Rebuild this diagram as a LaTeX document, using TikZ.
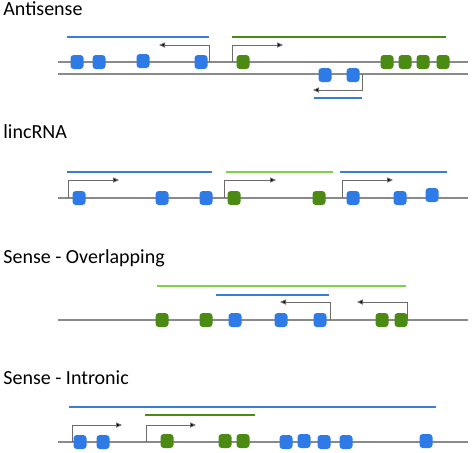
\documentclass[tikz,border=0pt]{standalone}
\usepackage{fontspec}
\setmainfont{Carlito}
\usetikzlibrary{arrows.meta,positioning}
\definecolor{geneblue}{HTML}{2E7BE8}
\definecolor{lineblue}{HTML}{3A7CD6}
\definecolor{genegreen}{HTML}{4B8B14}
\definecolor{lightgreen}{HTML}{7DD344}
\definecolor{strandgray}{HTML}{8A8A8A}
\definecolor{tssgray}{HTML}{6E6A6C}

\begin{document}
\begin{tikzpicture}[
  x=0.5pt, y=-0.5pt,
  title/.style={anchor=base west, inner sep=0pt, font=\fontsize{10}{12}\selectfont},
  exon/.style={rectangle, rounded corners=1.6pt, minimum width=6.5pt, minimum height=7pt, inner sep=0pt},
  bexon/.style={exon, fill=geneblue},
  gexon/.style={exon, fill=genegreen},
  strand/.style={draw=strandgray, line width=0.6pt},
  transcript/.style={line width=1.3pt},
  tss/.style={draw=tssgray, line width=0.45pt, -{Triangle[length=3pt, width=2.6pt, fill=black]}}
]
  \useasboundingbox (0,0) rectangle (474,452);

  % Antisense
  \node[title] (tA) at (3,15) {Antisense};
  \coordinate (aTL) at (58,62);  \coordinate (aTR) at (468,62);
  \coordinate (aBL) at (58,74);  \coordinate (aBR) at (468,74);
  \draw[strand] (aTL) -- (aTR);
  \draw[strand] (aBL) -- (aBR);
  \coordinate (aS1) at (209,62); \coordinate (aE1) at (159,45);
  \coordinate (aS2) at (232,62); \coordinate (aE2) at (283,45);
  \coordinate (aS3) at (362,74); \coordinate (aE3) at (313,90);
  \draw[tss] (aS1) |- (aE1);
  \draw[tss] (aS2) |- (aE2);
  \draw[tss] (aS3) |- (aE3);
  \node[bexon] (a1) at (77,62) {};
  \node[bexon] (a2) at (99,62) {};
  \node[bexon] (a3) at (143,61) {};
  \node[bexon] (a4) at (201,62) {};
  \node[gexon] (a5) at (243,62) {};
  \node[gexon] (a6) at (387,62) {};
  \node[gexon] (a7) at (405,62) {};
  \node[gexon] (a8) at (423,62) {};
  \node[gexon] (a9) at (443,62) {};
  \node[bexon] (a10) at (325,75) {};
  \node[bexon] (a11) at (353,75) {};
  \coordinate (aL1) at (67,37);  \coordinate (aR1) at (209,37);
  \coordinate (aL2) at (232,37); \coordinate (aR2) at (446,37);
  \coordinate (aL3) at (314,98); \coordinate (aR3) at (362,98);
  \draw[transcript, lineblue] (aL1) -- (aR1);
  \draw[transcript, genegreen] (aL2) -- (aR2);
  \draw[transcript, lineblue] (aL3) -- (aR3);

  % lincRNA
  \node[title] (tL) at (3,138) {lincRNA};
  \coordinate (lL) at (58,198); \coordinate (lR) at (468,198);
  \draw[strand] (lL) -- (lR);
  \coordinate (lS1) at (68,198);  \coordinate (lE1) at (119,180);
  \coordinate (lS2) at (224,198); \coordinate (lE2) at (276,180);
  \coordinate (lS3) at (342,198); \coordinate (lE3) at (393,180);
  \draw[tss] (lS1) |- (lE1);
  \draw[tss] (lS2) |- (lE2);
  \draw[tss] (lS3) |- (lE3);
  \node[bexon] (l1) at (79,198) {};
  \node[bexon] (l2) at (162,198) {};
  \node[bexon] (l3) at (206,198) {};
  \node[gexon] (l4) at (234,198) {};
  \node[gexon] (l5) at (319,198) {};
  \node[bexon] (l6) at (353,198) {};
  \node[bexon] (l7) at (400,198) {};
  \node[bexon] (l8) at (432,195) {};
  \coordinate (lL1) at (67,172);  \coordinate (lR1) at (212,172);
  \coordinate (lL2) at (226,172); \coordinate (lR2) at (333,172);
  \coordinate (lL3) at (340,172); \coordinate (lR3) at (447,172);
  \draw[transcript, lineblue] (lL1) -- (lR1);
  \draw[transcript, lightgreen] (lL2) -- (lR2);
  \draw[transcript, lineblue] (lL3) -- (lR3);

  % Sense - Overlapping
  \node[title] (tO) at (3,263) {Sense - Overlapping};
  \coordinate (oL) at (58,320); \coordinate (oR) at (468,320);
  \draw[strand] (oL) -- (oR);
  \coordinate (oS1) at (330,320); \coordinate (oE1) at (280,302);
  \coordinate (oS2) at (407,320); \coordinate (oE2) at (357,302);
  \draw[tss] (oS1) |- (oE1);
  \draw[tss] (oS2) |- (oE2);
  \node[gexon] (o1) at (162,320) {};
  \node[gexon] (o2) at (206,320) {};
  \node[bexon] (o3) at (235,320) {};
  \node[bexon] (o4) at (281,320) {};
  \node[bexon] (o5) at (320,320) {};
  \node[gexon] (o6) at (382,320) {};
  \node[gexon] (o7) at (401,320) {};
  \coordinate (oL1) at (157,286); \coordinate (oR1) at (406,286);
  \coordinate (oL2) at (216,295); \coordinate (oR2) at (329,295);
  \draw[transcript, lightgreen] (oL1) -- (oR1);
  \draw[transcript, lineblue] (oL2) -- (oR2);

  % Sense - Intronic
  \node[title] (tI) at (3,384) {Sense - Intronic};
  \coordinate (iL) at (58,442); \coordinate (iR) at (468,442);
  \draw[strand] (iL) -- (iR);
  \coordinate (iS1) at (72,442);  \coordinate (iE1) at (122,425);
  \coordinate (iS2) at (146,442); \coordinate (iE2) at (196,425);
  \draw[tss] (iS1) |- (iE1);
  \draw[tss] (iS2) |- (iE2);
  \node[bexon] (i1) at (80,442) {};
  \node[bexon] (i2) at (103,442) {};
  \node[gexon] (i3) at (167,441) {};
  \node[gexon] (i4) at (225,441) {};
  \node[gexon] (i5) at (243,441) {};
  \node[bexon] (i6) at (286,442) {};
  \node[bexon] (i7) at (304,441) {};
  \node[bexon] (i8) at (324,442) {};
  \node[bexon] (i9) at (346,442) {};
  \node[bexon] (i10) at (426,441) {};
  \coordinate (iL1) at (69,407);  \coordinate (iR1) at (436,407);
  \coordinate (iL2) at (145,415); \coordinate (iR2) at (255,415);
  \draw[transcript, lineblue] (iL1) -- (iR1);
  \draw[transcript, genegreen] (iL2) -- (iR2);
\end{tikzpicture}
\end{document}
